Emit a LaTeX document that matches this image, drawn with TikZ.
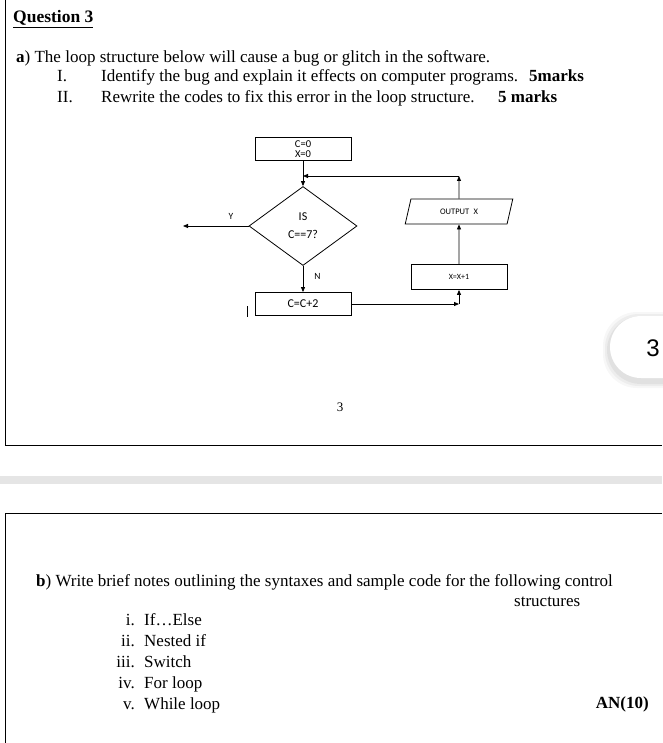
\documentclass[tikz,border=0pt]{standalone}
\usepackage{fontspec}
\setmainfont{Liberation Serif}
\newfontfamily\chartfont{Carlito}
\newfontfamily\badgefont{Liberation Sans}
\usetikzlibrary{arrows.meta, positioning, shapes.geometric}

\begin{document}
\begin{tikzpicture}[x=1pt, y=-1pt,
    >={Triangle[length=5pt, width=4pt]},
    flow/.style={draw, line width=0.8pt},
    box/.style={draw, line width=0.8pt, minimum width=96pt, minimum height=23pt, inner sep=1pt, align=center, font=\chartfont\fontsize{10.5}{10.5}\selectfont},
    decision/.style={draw, diamond, line width=0.8pt, minimum width=108pt, minimum height=79pt, aspect=1.37, inner sep=0pt, align=center, font=\chartfont\fontsize{12}{18}\selectfont},
    io/.style={draw, trapezium, trapezium left angle=68, trapezium right angle=112, trapezium stretches=true, line width=0.8pt, minimum width=108pt, minimum height=25pt, inner sep=0pt, font=\chartfont\fontsize{8.5}{9}\selectfont},
    lbl/.style={font=\chartfont\fontsize{9.5}{10}\selectfont, inner sep=1pt},
    txt/.style={anchor=base west, inner sep=0pt, font=\fontsize{17}{20}\selectfont},
]
    \useasboundingbox (0,0) rectangle (662,743);

    % frames of the two questions
    \draw[line width=1pt] (5,0) -- (5,445) -- (662,445);
    \fill[black!10] (0,476) rectangle (662,484);
    \draw[line width=1pt] (662,513) -- (5,513) -- (5,743);

    % part a
    \node[txt, font=\fontsize{17.5}{20}\selectfont] (qtitle) at (13,23) {\textbf{\underline{Question 3}}};
    \node[txt] (parta) at (16,63) {\textbf{a}) The loop structure below will cause a bug or glitch in the software.};
    \node[txt] (numI) at (57,82) {I.};
    \node[txt] (taskI) at (101,82) {Identify the bug and explain it effects on computer programs.};
    \node[txt] (markI) at (529,82) {\textbf{5marks}};
    \node[txt] (numII) at (57,103) {II.};
    \node[txt] (taskII) at (101,103) {Rewrite the codes to fix this error in the loop structure.};
    \node[txt] (markII) at (498,103) {\textbf{5 marks}};

    % flowchart
    \node[box] (init) at (303,149) {C=0\\X=0};
    \node[decision] (test) at (303,226) {IS\\C==7?};
    \node[box, font=\chartfont\fontsize{12}{12}\selectfont] (cinc) at (303,304) {C=C+2};
    \node[box, minimum height=25pt, font=\chartfont\fontsize{8}{8}\selectfont] (xinc) at (459,277) {X=X+1};
    \node[io] (out) at (459,211.5) {OUTPUT\enspace X};
    \coordinate (back) at (459,176);
    \coordinate (merge) at (303,176);
    \coordinate (exit) at (183,226);
    \coordinate (turn) at (459,304);

    \draw[flow, ->] (init) -- (test);
    \draw[flow, ->] (test.west) -- node[lbl, pos=0.27, above=5pt] {Y} (exit);
    \draw[flow, ->] (test) -- node[lbl, right=10pt, pos=0.4] {N} (cinc);
    \draw[flow, ->] (cinc) -- (turn);
    \draw[flow, ->] (turn) -- (xinc);
    \draw[flow, ->] (xinc) -- (out);
    \draw[flow, ->] (out) -- (back);
    \draw[flow, ->] (back) -- (merge);
    \draw[line width=0.8pt] (247,306) -- (247,317);

    \node[font=\fontsize{13}{15}\selectfont] (pagenum) at (340,407) {3};

    % page badge
    \foreach \s/\o in {7/0.03, 5/0.04, 3/0.05} {
        \fill[black, opacity=\o, rounded corners=34pt] (610-\s,316-\s+3) rectangle (720,378+\s+3);
    }
    \fill[white, rounded corners=31pt] (610,316) rectangle (720,378);
    \node[font=\badgefont\fontsize{24}{26}\selectfont] (badge) at (653,348) {3};

    % part b
    \node[txt] (partb) at (36,586) {\textbf{b}) Write brief notes outlining the syntaxes and sample code for the following control};
    \node[txt] (partb2) at (514,606) {structures};
    \foreach \num/\item [count=\k] in {i./If\ldots Else, ii./Nested if, iii./Switch, iv./For loop, v./While loop} {
        \node[txt, anchor=base east] (num\k) at (135,604+21*\k) {\num};
        \node[txt] (item\k) at (144,604+21*\k) {\item};
    }
    \node[txt, anchor=base east] (marks) at (649,708) {\textbf{AN(10)}};
\end{tikzpicture}
\end{document}
